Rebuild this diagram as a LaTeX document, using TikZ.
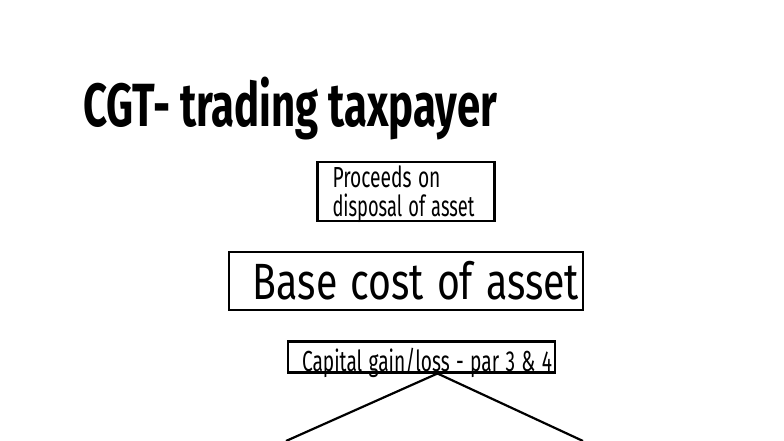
\documentclass[tikz,border=0pt]{standalone}
\usepackage{fontspec}
\setmainfont{Fira Sans}
\usepackage{graphicx}
\usetikzlibrary{positioning}

% squeeze a line of text to a given width, keeping its height
\newcommand{\fitw}[2]{\resizebox{#1}{\height}{#2}}

\begin{document}
\begin{tikzpicture}[
    x=1bp, y=-1bp,
    node distance=29bp and 29bp,
    stagebox/.style={rectangle, draw, line width=2.2bp, inner ysep=0bp},
    link/.style={line width=2.2bp}
]
\useasboundingbox (0,0) rectangle (784,441);

\node[anchor=base west, inner sep=0bp, font=\fontsize{61bp}{61bp}\selectfont\bfseries] (title) at (83,127) {\fitw{414bp}{CGT- trading taxpayer}};

\node[stagebox, minimum width=177bp, minimum height=59bp, inner xsep=15bp, text width=147bp, align=left,
      text height=25bp, text depth=32bp, font=\fontsize{29bp}{29bp}\selectfont] (proceeds) at (406,191.5)
      {\fitw{108bp}{Proceeds on}\\\fitw{142bp}{disposal of asset}};
\node[stagebox, below=of proceeds, minimum width=354bp, minimum height=58bp, inner xsep=4bp, text width=346bp, align=right,
      text height=40bp, text depth=4bp, font=\fontsize{51bp}{51bp}\selectfont] (basecost)
      {\fitw{326bp}{Base cost of asset}};
\node[stagebox, below=of basecost, xshift=15.5bp, minimum width=267bp, minimum height=31bp, inner xsep=3bp, text width=261bp, align=right,
      text height=29bp, text depth=0bp, font=\fontsize{29bp}{29bp}\selectfont] (capgain)
      {\fitw{250bp}{Capital gain/loss - par 3 \& 4}};

\coordinate (leftend) at (286,441);
\coordinate (rightend) at (583,441);
\draw[link] (leftend) -- ([xshift=16bp]capgain.south) -- (rightend);
\end{tikzpicture}
\end{document}
